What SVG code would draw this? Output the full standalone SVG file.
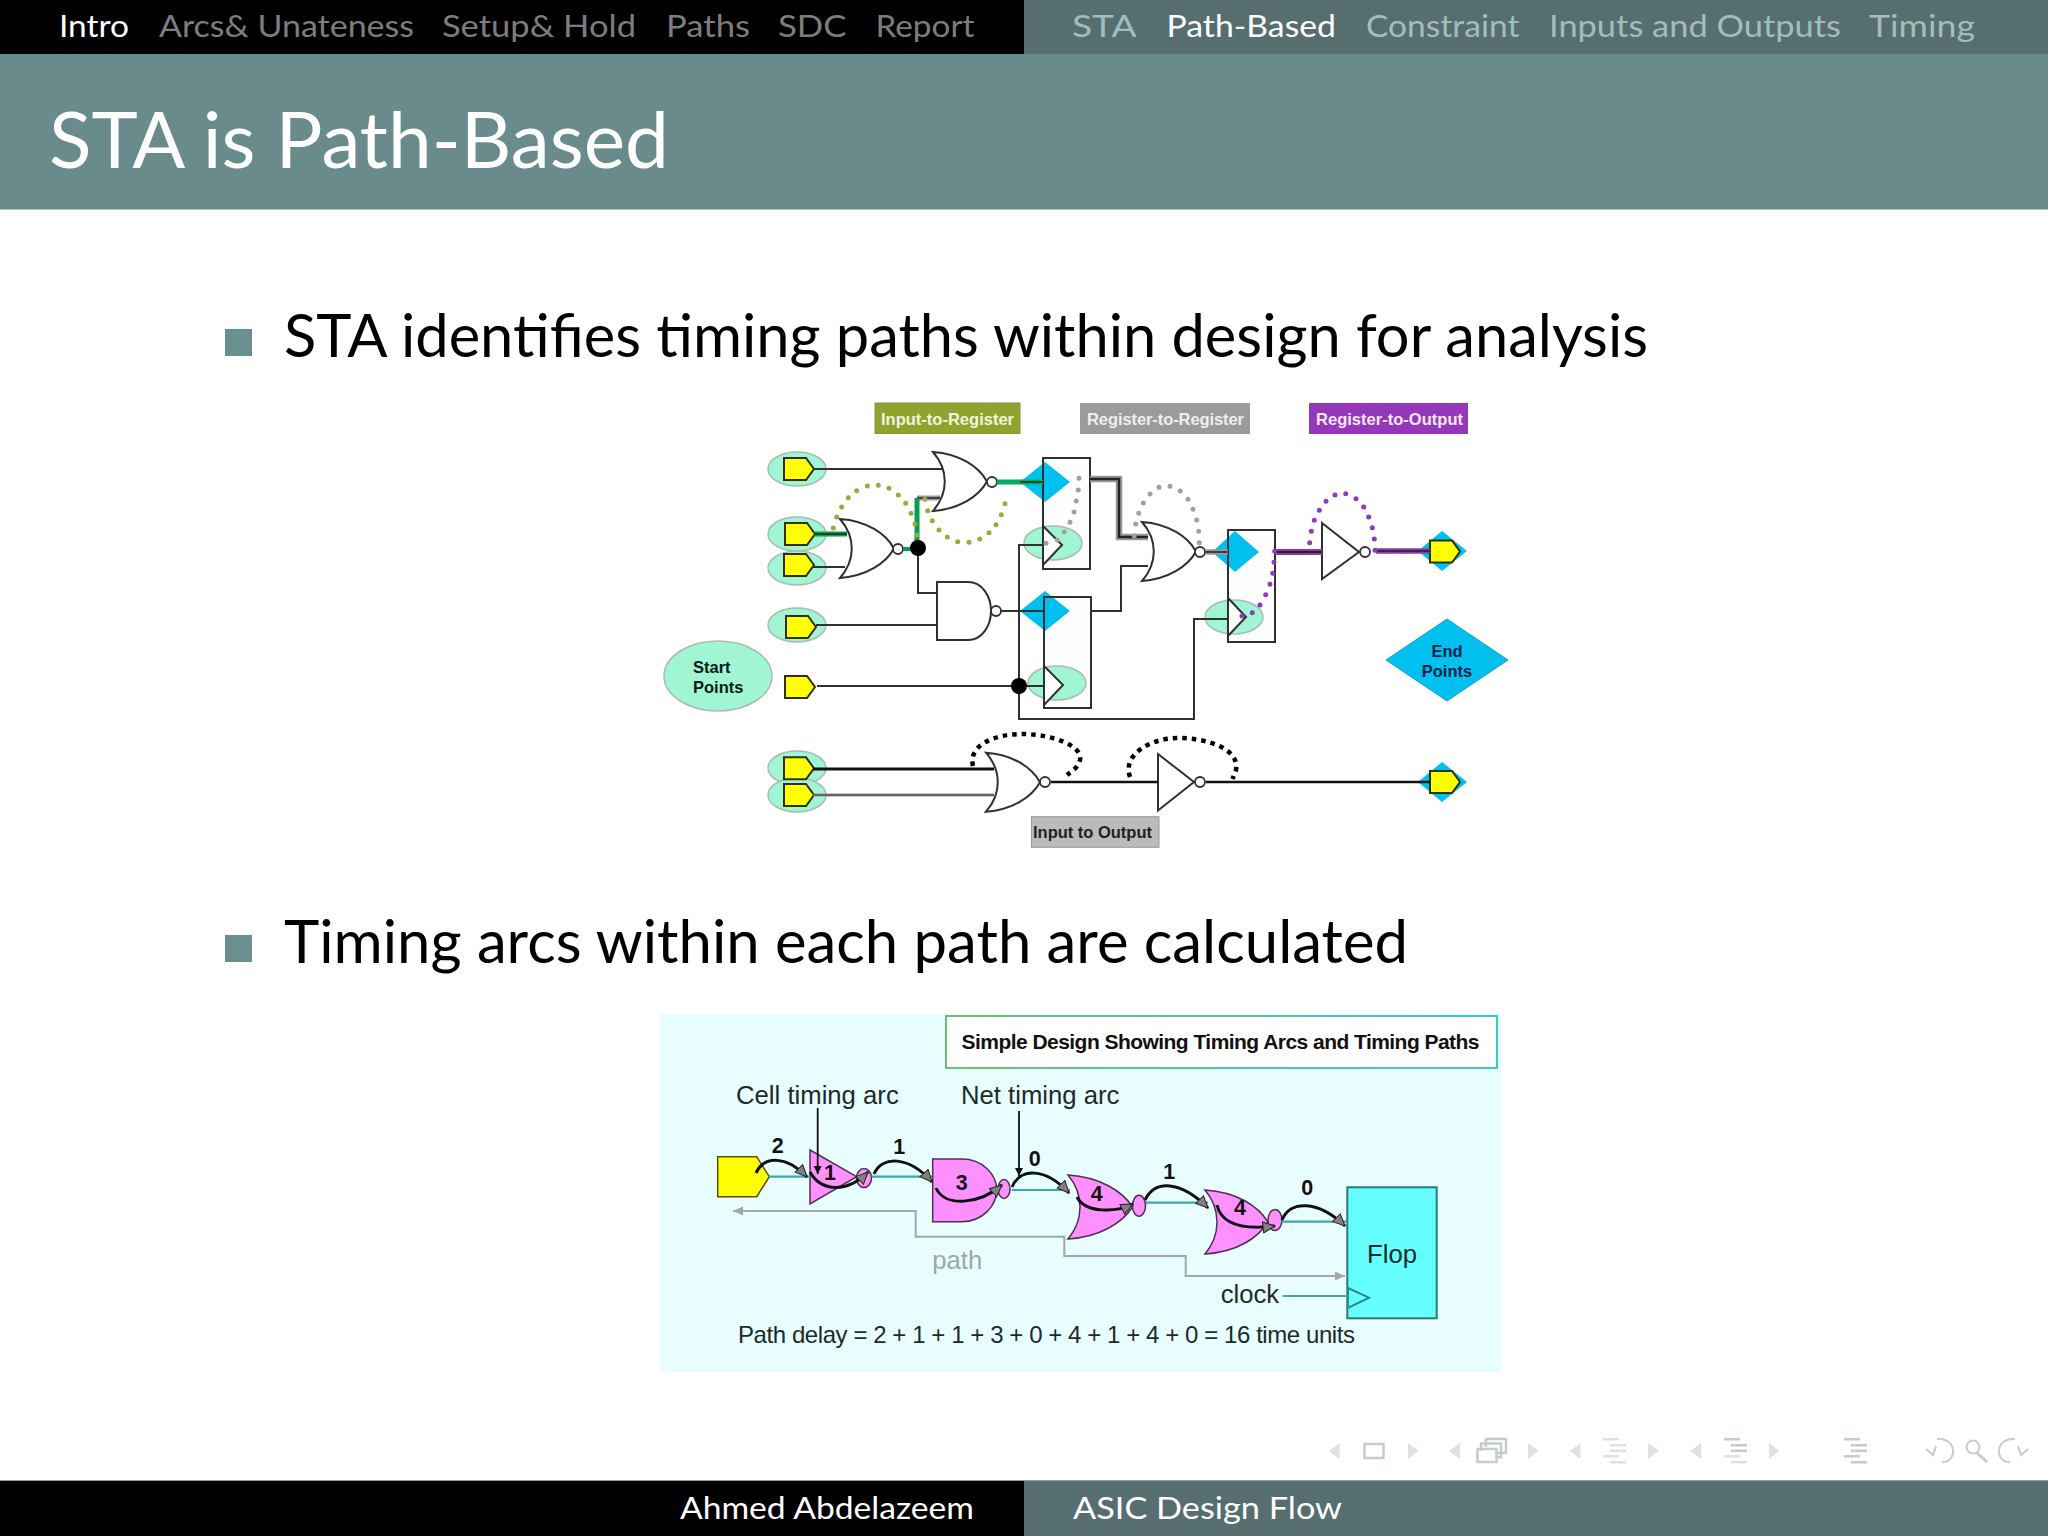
<svg xmlns="http://www.w3.org/2000/svg" width="2048" height="1536" viewBox="0 0 2048 1536">
<style>
.b{font-family:"Lato","Open Sans","Liberation Sans",sans-serif}
.h{font-size:31px;fill:#7d7d7d}
.hr{font-size:31px;fill:#a3bcbc}
.on{fill:#fff}
.bul{font-size:60px;fill:#000}
.a{font-family:"Liberation Sans",Arial,sans-serif}
.lb{font-size:16.5px;font-weight:700}
.t26{font-size:25.7px;fill:#1c2a2c}
.d{font-size:21.5px;font-weight:700;fill:#111;text-anchor:middle}
.w{fill:none;stroke:#303030;stroke-width:2}
.g{fill:#fff;stroke:#303030;stroke-width:2}
.bub{fill:#fff;stroke:#303030;stroke-width:1.8}
.ov{fill:#a0f5d2;stroke:#a9bdb2;stroke-width:1.5}
.pent{fill:#ffff00;stroke:#303010;stroke-width:2}
.dia{fill:#00c0f0}
.ffb{fill:none;stroke:#303030;stroke-width:2}
.dots{fill:none;stroke-width:5;stroke-linecap:round}
.pk{fill:#ff90ff;stroke:#503050;stroke-width:1.5}
.tw{fill:none;stroke:#3fa8a8;stroke-width:2.2}
.arc{fill:none;stroke:#111;stroke-width:3;marker-end:url(#ah)}
.nt{fill:#dde2e2}
.ns{fill:none;stroke:#c5cccc;stroke-width:2.5}
.nl{fill:#c5cccc}
</style>
<defs>
<path id="nor" d="M0,0 C27,1.8 46,15 54,29.5 C46,44 27,57 0,59 C15.7,41 15.7,18 0,0Z"/>
<path id="pt" d="M0,-11 H22 L30,0 L22,11 H0Z"/>
<marker id="ah" markerUnits="userSpaceOnUse" markerWidth="15" markerHeight="13" refX="12.500" refY="6" orient="auto"><path d="M0.500,0.500 L12.500,6 L0.500,11.500Z" fill="#808080" stroke="#222" stroke-width="1"/></marker>
<marker id="ab" markerUnits="userSpaceOnUse" markerWidth="10" markerHeight="10" refX="8" refY="4" orient="auto"><path d="M0,0 L8,4 L0,8Z" fill="#111"/></marker>
<marker id="ag" markerUnits="userSpaceOnUse" markerWidth="12" markerHeight="10" refX="10" refY="4.5" orient="auto"><path d="M0,0 L10,4.5 L0,9Z" fill="#a0a8a8"/></marker>
<marker id="ags" markerUnits="userSpaceOnUse" markerWidth="12" markerHeight="10" refX="1" refY="4.5" orient="auto"><path d="M11,0 L1,4.5 L11,9Z" fill="#a0a8a8"/></marker>
<linearGradient id="tb" x1="0" x2="1" y1="0" y2="0"><stop offset="0" stop-color="#6cc070"/><stop offset="1" stop-color="#40c8c8"/></linearGradient>
</defs>
<rect width="2048" height="1536" fill="#fff"/>

<g id="header">
<rect x="0" y="0" width="1024" height="54" fill="#000"/>
<rect x="1024" y="0" width="1024" height="54" fill="#566e70"/>
<rect x="0" y="54" width="2048" height="155.5" fill="#698b8b"/>
<g class="b">
<text class="h on" x="59" y="37" textLength="70" lengthAdjust="spacingAndGlyphs">Intro</text>
<text class="h" x="159" y="37" textLength="255" lengthAdjust="spacingAndGlyphs">Arcs&amp; Unateness</text>
<text class="h" x="442" y="37" textLength="194" lengthAdjust="spacingAndGlyphs">Setup&amp; Hold</text>
<text class="h" x="666" y="37" textLength="84" lengthAdjust="spacingAndGlyphs">Paths</text>
<text class="h" x="778" y="37" textLength="68.500" lengthAdjust="spacingAndGlyphs">SDC</text>
<text class="h" x="875.500" y="37" textLength="99" lengthAdjust="spacingAndGlyphs">Report</text>
<text class="hr" x="1072" y="37" textLength="64.500" lengthAdjust="spacingAndGlyphs">STA</text>
<text class="hr on" x="1166.500" y="37" textLength="169.500" lengthAdjust="spacingAndGlyphs">Path-Based</text>
<text class="hr" x="1366" y="37" textLength="153.500" lengthAdjust="spacingAndGlyphs">Constraint</text>
<text class="hr" x="1549" y="37" textLength="292" lengthAdjust="spacingAndGlyphs">Inputs and Outputs</text>
<text class="hr" x="1869" y="37" textLength="106" lengthAdjust="spacingAndGlyphs">Timing</text>
<text x="49" y="167.500" font-size="78" font-weight="400" fill="#fff" textLength="620" lengthAdjust="spacingAndGlyphs">STA is Path-Based</text>
</g>
</g>

<g id="bullet1">
<rect x="225" y="329" width="27" height="27" fill="#6a8f8f"/>
<text class="b bul" x="284" y="356.500" textLength="1364" lengthAdjust="spacingAndGlyphs">STA identifies timing paths within design for analysis</text>
</g>
<g id="bullet2">
<rect x="225" y="935" width="27" height="27" fill="#6a8f8f"/>
<text class="b bul" x="284" y="962.500" textLength="1124" lengthAdjust="spacingAndGlyphs">Timing arcs within each path are calculated</text>
</g>

<g id="legend-input-to-register"><rect x="875" y="403" width="145" height="30.500" fill="#8fa32f" stroke="#84983a"/><text class="a lb" x="881" y="425" fill="#f0f4dc" textLength="133">Input-to-Register</text></g>
<g id="legend-register-to-register"><rect x="1080" y="403" width="170" height="31" fill="#9b9b9b"/><text class="a lb" x="1087" y="425" fill="#eeeeee" textLength="157">Register-to-Register</text></g>
<g id="legend-register-to-output"><rect x="1309" y="403" width="159" height="31" fill="#9437b8"/><text class="a lb" x="1316" y="425" fill="#f4e8fa" textLength="147">Register-to-Output</text></g>
<g id="legend-input-to-output"><rect x="1031.500" y="816.700" width="127.500" height="30.600" fill="#bbbbbb" stroke="#999"/><text class="a lb" x="1033" y="838" fill="#222" textLength="119">Input to Output</text></g>
<g id="start-points"><ellipse cx="718" cy="676" rx="54" ry="35" class="ov"/><text class="a lb" x="693" y="673" fill="#0a1a20">Start</text><text class="a lb" x="693" y="692.500" fill="#0a1a20">Points</text></g>
<g id="end-points"><path d="M1447,619 L1508,660 L1447,701 L1386,660Z" class="dia" stroke="#1aa0c0"/><text class="a lb" x="1447" y="657" fill="#04244a" text-anchor="middle">End</text><text class="a lb" x="1447" y="677" fill="#04244a" text-anchor="middle">Points</text></g>

<g id="input-1"><ellipse cx="797" cy="469" rx="29" ry="17" class="ov"/><use href="#pt" x="784" y="469" class="pent"/></g>
<g id="input-2"><ellipse cx="797" cy="534" rx="29" ry="17" class="ov"/></g>
<g id="input-3"><ellipse cx="797" cy="568" rx="29" ry="17" class="ov"/><use href="#pt" x="784" y="565" class="pent"/></g>
<use href="#pt" x="785" y="534" class="pent"/>
<g id="input-4"><ellipse cx="797" cy="625" rx="29" ry="17" class="ov"/><use href="#pt" x="786" y="627" class="pent"/></g>
<g id="input-5"><use href="#pt" x="785" y="687" class="pent"/></g>
<g id="input-6"><ellipse cx="797" cy="768" rx="29" ry="17" class="ov"/></g>
<g id="input-7"><ellipse cx="797" cy="795" rx="29" ry="17" class="ov"/><use href="#pt" x="784" y="768.300" class="pent"/><use href="#pt" x="784" y="795" class="pent"/></g>

<g id="gate-nor-1"><use href="#nor" x="933" y="452" class="g"/><circle cx="992" cy="482" r="5" class="bub"/></g>
<g id="gate-nor-2"><use href="#nor" x="840" y="519" class="g"/><circle cx="898" cy="549" r="5" class="bub"/></g>
<g id="gate-nand"><path d="M937,582 H968 C982,582 991,596 991,611 C991,626 982,640 968,640 H937Z" class="g"/><circle cx="996" cy="611" r="5" class="bub"/></g>
<g id="gate-nor-3"><use href="#nor" x="1142" y="522" class="g"/><circle cx="1200" cy="552" r="5" class="bub"/></g>
<g id="gate-inv-1"><path d="M1322,523 L1359,552 L1322,579Z" class="g"/><circle cx="1365" cy="552" r="5" class="bub"/></g>
<g id="gate-nor-4"><use href="#nor" x="986" y="752.700" class="g"/><circle cx="1045" cy="782" r="5" class="bub"/></g>
<g id="gate-inv-2"><path d="M1158,754 L1194,782 L1158,810.500Z" class="g"/><circle cx="1200" cy="782" r="5" class="bub"/></g>

<g id="flop-1"><rect x="1043" y="458" width="47" height="111" fill="#fefefe"/><ellipse cx="1053" cy="543" rx="29" ry="17" class="ov"/><path d="M1045,462 L1070,482 L1045,502 L1020,482Z" class="dia"/><rect x="1043" y="458" width="47" height="111" class="ffb"/><path d="M1043,526 L1062,545 L1043,565Z" class="g"/></g>
<g id="flop-2"><rect x="1044" y="597" width="47" height="111" fill="#fefefe"/><ellipse cx="1057" cy="683" rx="29" ry="17" class="ov"/><path d="M1045,591 L1070,611 L1045,631 L1020,611Z" class="dia"/><rect x="1044" y="597" width="47" height="111" class="ffb"/><path d="M1044,666 L1063,685 L1044,705Z" class="g"/></g>
<g id="flop-3"><rect x="1228" y="530" width="47" height="112" fill="#fefefe"/><ellipse cx="1234" cy="617" rx="29" ry="17" class="ov"/><path d="M1235,531 L1259,552 L1235,572 L1212,552Z" class="dia"/><rect x="1228" y="530" width="47" height="112" class="ffb"/><path d="M1228,598 L1246,617 L1228,636Z" class="g"/></g>
<g id="output-1"><path d="M1442,531 L1467,551 L1442,571 L1418,551Z" class="dia"/><use href="#pt" x="1430" y="551.500" class="pent"/></g>
<g id="output-2"><path d="M1442,762 L1467,782 L1442,802 L1418,782Z" class="dia"/><use href="#pt" x="1430" y="782" class="pent"/></g>

<g id="connectors">
<path class="w" d="M814,469 H942 M813,567 H845 M903,549 H918 M918,549 V593 H937 M816,625 H937 M1001,611 H1043 M817,686 H1044 M1043,545 H1019 V719 H1194 V619 H1228 M1091,611 H1121 V566 H1148"/>
<path d="M814,534 H847" fill="none" stroke="#00a050" stroke-width="5"/><path d="M814,534 H847" fill="none" stroke="#222" stroke-width="1.500"/>
<path d="M917,498 H940" fill="none" stroke="#999" stroke-width="5"/><path d="M917,498 H940" fill="none" stroke="#222" stroke-width="1.500"/>
<path d="M917,548 V498" fill="none" stroke="#00a050" stroke-width="5"/>
<path d="M903,549 H918" fill="none" stroke="#00a050" stroke-width="4"/>
<path d="M997,482 H1043" fill="none" stroke="#00b060" stroke-width="5"/><path d="M1020,482 H1043" fill="none" stroke="#222" stroke-width="1.500"/>
<path d="M1090,479 H1119 V537 H1148" fill="none" stroke="#999" stroke-width="6.500"/><path d="M1090,479 H1119 V537 H1148" fill="none" stroke="#222" stroke-width="2.500"/>
<path d="M1205,552 H1228" fill="none" stroke="#999" stroke-width="5.500"/><path d="M1205,552 H1228" fill="none" stroke="#222" stroke-width="1.500"/>
<path d="M1275,552 H1322" fill="none" stroke="#8a3aa8" stroke-width="6"/><path d="M1275,552 H1322" fill="none" stroke="#222" stroke-width="2"/>
<path d="M1376,551 H1430" fill="none" stroke="#8a3aa8" stroke-width="5.500"/><path d="M1376,551 H1430" fill="none" stroke="#222" stroke-width="1.500"/>
<path d="M813,769 H994" fill="none" stroke="#111" stroke-width="3"/>
<path d="M813,795 H994" fill="none" stroke="#999" stroke-width="3"/><path d="M813,795 H994" fill="none" stroke="#333" stroke-width="1"/>
<path d="M1051,782 H1158 M1206,782 H1430" fill="none" stroke="#111" stroke-width="2.500"/>
<circle cx="918" cy="548" r="8" fill="#000"/>
<circle cx="1019" cy="686" r="8" fill="#000"/>
<path class="dots" stroke="#a0a83c" d="M833.300,528h0M836.700,517h0M841.700,507h0M848.300,497.700h0M856.700,490.700h0M867.300,486h0M878.300,485.300h0M889,488.300h0M898.300,495h0M905.700,503.300h0M911,513.300h0M915,524h0M916.700,535h0M925,499.300h0M927.700,510.700h0M932.300,520.700h0M939,530h0M947.300,537h0M957.700,541.700h0M969,542.300h0M979.700,539h0M989,532.700h0M996,524.700h0M1001.300,514.700h0M1005,503.700h0"/>
<path class="dots" stroke="#a0a0a0" d="M1079,478.300h0M1078.300,490h0M1076.300,501h0M1074,512h0M1070,522.300h0M1064.300,531.700h0M1057.300,540h0M1046,543.300h0M1134.300,535.700h0M1135.700,524h0M1138.700,513.300h0M1143.300,503h0M1150,494h0M1159,487.300h0M1170,486.300h0M1180.300,491h0M1188,499.300h0M1193,509.300h0M1196.700,520h0M1198.700,531.300h0M1199.300,542.700h0"/>
<path class="dots" stroke="#9038c0" d="M1274.700,551.300h0M1274,562.300h0M1272.700,573.300h0M1270,584.300h0M1265.700,594.700h0M1260,605h0M1252.300,612.700h0M1242,616h0M1309.700,542.700h0M1311.300,531.300h0M1314.300,520.300h0M1319.300,510.300h0M1326,501.300h0M1335,495h0M1345.700,493.700h0M1356,498.700h0M1363.700,507h0M1368.700,517h0M1372.300,527.700h0M1374.300,539h0M1375,550.300h0"/>
<path d="M973,766 C968,745 995,734 1022,734 C1050,734 1083,745 1080,760 C1078,768 1072,771 1067,775" fill="none" stroke="#000" stroke-width="4.500" stroke-dasharray="4.500 5"/>
<path d="M1130,777 C1122,755 1150,738 1178,738 C1205,738 1240,748 1236,770 L1232.500,779" fill="none" stroke="#000" stroke-width="4.500" stroke-dasharray="4.500 5"/>
</g>

<g id="timing-panel"><rect x="660" y="1014" width="841" height="358" fill="#e8fdfd"/></g>
<g id="panel-title"><rect x="946" y="1016" width="551" height="52" fill="#fff" stroke="url(#tb)" stroke-width="2"/><text class="a" x="961.500" y="1049" font-size="21" font-weight="700" fill="#111" textLength="518">Simple Design Showing Timing Arcs and Timing Paths</text></g>
<g id="lbl-cell"><text class="a t26" x="736" y="1104">Cell timing arc</text></g>
<g id="lbl-net"><text class="a t26" x="961" y="1104">Net timing arc</text></g>

<g id="t-start"><path d="M717.700,1156.700 H756.700 L769.300,1176.700 L756.700,1196.700 H717.700Z" fill="#ffff00" stroke="#505010" stroke-width="1.500"/></g>
<g id="t-buf"><path d="M810,1150 L856.700,1176.700 L810,1204Z" class="pk"/><ellipse cx="864" cy="1178" rx="7.500" ry="9.500" class="pk"/></g>
<g id="t-nand"><path d="M932.700,1159 H962 C982,1159 996.700,1174 996.700,1190 C996.700,1206 982,1221.700 962,1221.700 H932.700Z" class="pk"/><ellipse cx="1004" cy="1189" rx="6" ry="9.500" class="pk"/></g>
<g id="t-nor-1"><path d="M1068,1175 C1100,1177 1122,1191 1132.700,1207 C1122,1223 1100,1237 1068,1239 C1084,1220 1084,1194 1068,1175Z" class="pk"/><ellipse cx="1139" cy="1205.700" rx="6.500" ry="10.500" class="pk"/></g>
<g id="t-nor-2"><path d="M1205,1190 C1237,1192 1258,1206 1268,1222 C1258,1238 1237,1252 1205,1254 C1221,1235 1221,1209 1205,1190Z" class="pk"/><ellipse cx="1275" cy="1220" rx="7" ry="10.500" class="pk"/></g>
<g id="t-flop"><rect x="1347.300" y="1187.300" width="89.400" height="131" fill="#66ffff" stroke="#2a7a7a" stroke-width="2"/><path d="M1348,1288 L1369,1297.700 L1348,1308Z" fill="#66ffff" stroke="#2a8a8a" stroke-width="2"/><text class="a t26" x="1367" y="1263">Flop</text></g>

<g id="timing-connectors">
<path class="tw" d="M769,1176.700 H810 M871.700,1176.700 H932 M1011.700,1190 H1070 M1146,1202.700 H1208 M1281.700,1221.700 H1346.700 M1282.700,1296 H1348"/>
<path d="M1345,1276 H1185.700 V1256 H1064.300 V1236.700 H915.700 V1211 H733" fill="none" stroke="#a0a8a8" stroke-width="2" marker-start="url(#ags)" marker-end="url(#ag)"/>
<path d="M817.700,1108 V1174" fill="none" stroke="#111" stroke-width="1.800" marker-end="url(#ab)"/>
<path d="M1019,1111 V1176" fill="none" stroke="#111" stroke-width="1.800" marker-end="url(#ab)"/>
<path class="arc" d="M756,1173 C764,1156 786,1155 807,1177"/>
<path class="arc" d="M810,1172 C820,1190 845,1195 868,1172"/>
<path class="arc" d="M874,1174 C882,1156 908,1155 932,1182"/>
<path class="arc" d="M936,1188 C945,1208 980,1204 1002,1185"/>
<path class="arc" d="M1012,1187 C1020,1168 1045,1167 1069,1193"/>
<path class="arc" d="M1077,1197 C1085,1213 1115,1213 1133,1204"/>
<path class="arc" d="M1145,1200 C1155,1180 1180,1180 1208,1208"/>
<path class="arc" d="M1217,1205 C1222,1228 1250,1229 1275,1226"/>
<path class="arc" d="M1282,1220 C1290,1200 1318,1200 1345,1226"/>
</g>
<g id="timing-labels" class="a">
<text class="d" x="777.700" y="1152.700">2</text>
<text class="d" x="830" y="1180">1</text>
<text class="d" x="899.300" y="1154">1</text>
<text class="d" x="961.700" y="1190">3</text>
<text class="d" x="1034.700" y="1165.700">0</text>
<text class="d" x="1096.700" y="1201">4</text>
<text class="d" x="1169.300" y="1179">1</text>
<text class="d" x="1240" y="1215.300">4</text>
<text class="d" x="1307.300" y="1195">0</text>
<text class="t26" x="932.300" y="1269" style="fill:#a0a8a8">path</text>
<text class="t26" x="1220.700" y="1303.300">clock</text>
<text x="738" y="1343" font-size="24" fill="#1c2a2c" textLength="617">Path delay = 2 + 1 + 1 + 3 + 0 + 4 + 1 + 4 + 0 = 16 time units</text>
</g>

<g id="nav-icons">
<path class="nt" d="M1339.600,1443 V1459 L1329,1451Z M1408,1443 V1459 L1418.500,1451Z M1460,1443 V1459 L1449,1451Z M1528,1443 V1459 L1538.500,1451Z M1580.500,1443 V1459 L1570,1451Z M1648,1443 V1459 L1659,1451Z M1701,1443 V1459 L1690,1451Z M1769,1443 V1459 L1779.500,1451Z"/>
<rect class="ns" x="1364.500" y="1444" width="19" height="14"/>
<path class="ns" d="M1486,1447 V1439 H1506 V1453 H1497 M1481,1451 V1443.500 H1501 V1457 H1497"/><rect class="ns" x="1477.500" y="1449" width="19" height="13"/>
<g class="nl" opacity="0.55"><rect x="1603" y="1438" width="16" height="2.500"/><rect x="1610" y="1444" width="16" height="2.500"/><rect x="1610" y="1449.500" width="16" height="2.500"/><rect x="1603" y="1455" width="16" height="2.500"/><rect x="1610" y="1461" width="16" height="2.500"/></g>
<g class="nl"><rect x="1724" y="1438" width="16" height="2.500"/><rect x="1731" y="1444" width="16" height="2.500"/><rect x="1731" y="1449.500" width="16" height="2.500"/></g>
<g class="nl" opacity="0.55"><rect x="1724" y="1455" width="16" height="2.500"/><rect x="1731" y="1461" width="16" height="2.500"/></g>
<g class="nl"><rect x="1844" y="1438" width="16" height="2.500"/><rect x="1851" y="1444" width="16" height="2.500"/><rect x="1851" y="1449.500" width="16" height="2.500"/><rect x="1844" y="1455" width="16" height="2.500"/><rect x="1851" y="1461" width="16" height="2.500"/></g>
<path class="ns" style="stroke-width:2" d="M1937,1439 C1948,1438 1953,1445 1953,1451 C1953,1458 1948,1463 1942,1462 M1926,1449 L1933,1455 L1936,1446"/>
<circle class="ns" style="stroke-width:2" cx="1973" cy="1447" r="6.500"/><path class="ns" style="stroke-width:3" d="M1977,1453 L1987,1462"/>
<path class="ns" style="stroke-width:2" d="M2015,1439 C2004,1438 1999,1445 1999,1451 C1999,1458 2004,1463 2010,1462 M2028,1449 L2021,1455 L2018,1446"/>
</g>

<g id="footer">
<rect x="0" y="1480" width="2048" height="1.500" fill="#999"/>
<rect x="0" y="1481" width="1024" height="55" fill="#000"/>
<rect x="1024" y="1481" width="1024" height="55" fill="#566e70"/>
<text class="b h on" x="680" y="1518.500" textLength="294" lengthAdjust="spacingAndGlyphs">Ahmed Abdelazeem</text>
<text class="b h on" x="1073" y="1518.500" textLength="269" lengthAdjust="spacingAndGlyphs">ASIC Design Flow</text>
</g>
</svg>
